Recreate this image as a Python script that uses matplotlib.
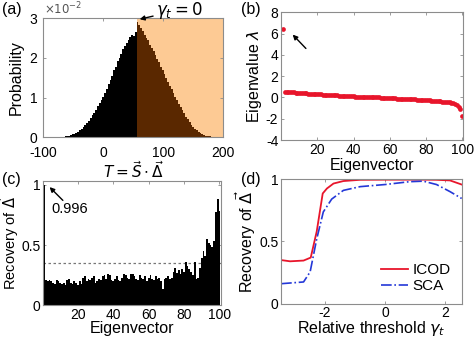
import matplotlib
matplotlib.use("Agg")
import numpy as np
import matplotlib.pyplot as plt

plt.rcParams['font.family'] = ['Liberation Sans', 'DejaVu Sans']
plt.rcParams['axes.unicode_minus'] = False
plt.rcParams['mathtext.fontset'] = 'dejavusans'

# (a) histogram of T, probability in units of 1e-2, bins of width 3 from -100 to 200
hist_edges = np.arange(-100, 201, 3)
threshold = 56
hist_below = [0.0, 0.0, 0.0, 0.002, 0.003, 0.005, 0.007, 0.01, 0.012, 0.015,
              0.02, 0.02, 0.025, 0.035, 0.045, 0.06, 0.075, 0.09, 0.12, 0.14,
              0.18, 0.22, 0.25, 0.30, 0.35, 0.42, 0.48, 0.55, 0.62, 0.68,
              0.78, 0.86, 0.93, 1.02, 1.12, 1.22, 1.33, 1.44, 1.55, 1.70,
              1.78, 1.92, 2.00, 2.10, 2.22, 2.30, 2.38, 2.45, 2.52, 2.58,
              2.55, 2.65]
hist_above = [2.90, 2.82, 2.75, 2.68, 2.58, 2.50, 2.45, 2.33, 2.25, 2.18,
              2.08, 1.98, 1.90, 1.78, 1.70, 1.60, 1.50, 1.40, 1.30, 1.22,
              1.12, 1.02, 0.93, 0.85, 0.77, 0.68, 0.60, 0.52, 0.45, 0.38,
              0.32, 0.27, 0.22, 0.18, 0.14, 0.11, 0.08, 0.06, 0.045, 0.03,
              0.022, 0.015, 0.01, 0.007, 0.005, 0.003, 0.002, 0.001]

# (b) eigenvalue spectrum
eigenvalues = [6.38, 0.55, 0.53, 0.52, 0.50, 0.49, 0.47, 0.46, 0.45, 0.43,
               0.42, 0.41, 0.39, 0.38, 0.37, 0.35, 0.34, 0.33, 0.32, 0.30,
               0.29, 0.28, 0.27, 0.26, 0.25, 0.24, 0.23, 0.22, 0.21, 0.20,
               0.19, 0.18, 0.17, 0.16, 0.15, 0.14, 0.13, 0.12, 0.11, 0.10,
               0.09, 0.08, 0.08, 0.07, 0.06, 0.05, 0.05, 0.04, 0.03, 0.02,
               0.02, 0.01, 0.00, 0.00, -0.01, -0.02, -0.03, -0.04, -0.05, -0.06,
               -0.07, -0.08, -0.09, -0.10, -0.10, -0.11, -0.12, -0.13, -0.14, -0.15,
               -0.16, -0.17, -0.18, -0.19, -0.20, -0.21, -0.22, -0.23, -0.24, -0.25,
               -0.26, -0.28, -0.29, -0.31, -0.32, -0.34, -0.35, -0.37, -0.38, -0.40,
               -0.42, -0.44, -0.46, -0.48, -0.51, -0.57, -0.68, -0.92, -1.12, -1.70]

# (c) recovery of Delta per eigenvector
recovery = [0.996, 0.21, 0.20, 0.21, 0.20, 0.19, 0.18, 0.21, 0.20, 0.19,
            0.18, 0.19, 0.17, 0.21, 0.22, 0.19, 0.18, 0.20, 0.19, 0.17,
            0.20, 0.18, 0.23, 0.24, 0.20, 0.22, 0.21, 0.23, 0.24, 0.19,
            0.20, 0.22, 0.21, 0.24, 0.25, 0.22, 0.26, 0.25, 0.21, 0.20,
            0.22, 0.24, 0.21, 0.20, 0.23, 0.26, 0.25, 0.23, 0.22, 0.26,
            0.26, 0.24, 0.22, 0.21, 0.25, 0.23, 0.22, 0.24, 0.20, 0.23,
            0.25, 0.22, 0.21, 0.24, 0.22, 0.23, 0.20, 0.14, 0.22, 0.23,
            0.24, 0.22, 0.23, 0.28, 0.31, 0.27, 0.29, 0.26, 0.30, 0.28,
            0.36, 0.33, 0.30, 0.28, 0.25, 0.36, 0.22, 0.23, 0.31, 0.39,
            0.45, 0.41, 0.55, 0.52, 0.50, 0.48, 0.53, 0.77, 0.88, 0.78]
recovery_ref = 0.353

# (d) recovery vs relative threshold
gamma = [-3.47, -3.17, -2.72, -2.48, -2.28, -2.08, -1.94, -1.72, -1.39, -0.83,
         0.0, 0.83, 1.28, 1.72, 2.17, 2.56]
icod = [0.350, 0.340, 0.346, 0.370, 0.580, 0.885, 0.925, 0.965, 0.985, 0.995,
        0.996, 0.996, 0.996, 0.995, 0.990, 0.957]
sca_gamma = [-3.47, -2.72, -2.50, -2.28, -2.06, -1.78, -1.39, -0.83, 0.0, 0.83,
             1.28, 1.72, 2.17, 2.56]
sca = [0.160, 0.174, 0.255, 0.520, 0.737, 0.840, 0.910, 0.940, 0.957, 0.980,
       0.984, 0.957, 0.900, 0.845]

SPINE = '#8c8c8c'
RED = '#e8152b'
BLUE = '#2438d8'
PEACH = '#fdca94'
BROWN = '#5a2800'
LABEL_FS = 11.5
TICK_FS = 10


def style(ax):
    for s in ax.spines.values():
        s.set_color(SPINE)
        s.set_linewidth(0.8)
    ax.tick_params(direction='in', length=2.5, width=0.6, color=SPINE,
                   labelsize=TICK_FS, top=True, right=True, pad=2)


fig = plt.figure(figsize=(4.74, 3.4), dpi=100)
ax_a = fig.add_axes([0.0907, 0.596, 0.380, 0.351])
ax_b = fig.add_axes([0.593, 0.588, 0.384, 0.376])
ax_c = fig.add_axes([0.0897, 0.1015, 0.377, 0.366])
ax_d = fig.add_axes([0.593, 0.107, 0.381, 0.366])

# (a)
ax_a.axvspan(threshold, 200, color=PEACH, lw=0, zorder=0)
n_below = len(hist_below)
ax_a.stairs(hist_below, hist_edges[:n_below + 1], fill=True, color='black', zorder=2)
ax_a.stairs(hist_above, hist_edges[n_below:], fill=True, color=BROWN, zorder=2)
ax_a.set_xlim(-100, 200)
ax_a.set_ylim(0, 3)
ax_a.set_xticks([-100, 0, 100, 200])
ax_a.set_yticks([0, 1, 2, 3])
ax_a.set_ylabel('Probability', fontsize=LABEL_FS, labelpad=4)
ax_a.set_xlabel(r'$T = \vec{S}\cdot\vec{\Delta}$', fontsize=11, labelpad=0.5)
ax_a.text(-98, 3.02, r'$\times10^{-2}$', fontsize=8.5, color='#555555', va='bottom')
ax_a.annotate(r'$\gamma_t = 0$', xy=(61, 2.97), xytext=(88, 3.2),
              fontsize=12, va='center', annotation_clip=False,
              arrowprops=dict(arrowstyle='-|>', color='black', lw=1.0,
                              mutation_scale=7, shrinkA=0, shrinkB=0))
style(ax_a)
ax_a.tick_params(axis='y', pad=4)
ax_a.tick_params(axis='x', pad=6)

# (b)
idx = np.arange(1, len(eigenvalues) + 1)
ax_b.plot(idx, eigenvalues, 'o', color=RED, ms=3.4, mec='none')
ax_b.set_xlim(0, 100.5)
ax_b.set_ylim(-4, 8)
ax_b.set_xticks([20, 40, 60, 80, 100])
ax_b.set_yticks([-4, -2, 0, 2, 4, 6, 8])
ax_b.set_ylabel(r'Eigenvalue $\lambda$', fontsize=LABEL_FS, labelpad=1)
ax_b.set_xlabel('Eigenvector', fontsize=LABEL_FS, labelpad=1)
ax_b.annotate('', xy=(6.4, 5.9), xytext=(13.7, 4.6),
              arrowprops=dict(arrowstyle='-|>', color='black', lw=1.0,
                              mutation_scale=7, shrinkA=0, shrinkB=0))
style(ax_b)

# (c)
ax_c.axhline(recovery_ref, color='#777777', ls=(0, (2, 2)), lw=0.9, zorder=1)
ax_c.bar(np.arange(1, len(recovery) + 1), recovery, width=1.0,
         color='black', zorder=2)
ax_c.set_xlim(0, 101)
ax_c.set_ylim(0, 1.03)
ax_c.set_xticks([20, 40, 60, 80, 100])
ax_c.set_yticks([0, 0.5, 1])
ax_c.set_yticklabels(['0', '0.5', '1'])
ax_c.set_ylabel(r'Recovery of $\vec{\Delta}$', fontsize=10.5)
ax_c.yaxis.set_label_coords(-0.12, 0.5)
ax_c.set_xlabel('Eigenvector', fontsize=LABEL_FS, labelpad=-1)
ax_c.text(5, 0.80, '0.996', fontsize=10.5, va='center', ha='left')
ax_c.annotate('', xy=(4, 0.98), xytext=(11.5, 0.87),
              arrowprops=dict(arrowstyle='-|>', color='black', lw=1.0,
                              mutation_scale=7, shrinkA=0, shrinkB=0))
style(ax_c)
ax_c.tick_params(axis='y', pad=1.5)

# (d)
ax_d.plot(gamma, icod, color=RED, lw=1.3, label='ICOD')
ax_d.plot(sca_gamma, sca, color=BLUE, lw=1.2, ls='-.', label='SCA')
ax_d.set_xlim(-3.47, 2.56)
ax_d.set_ylim(0, 1)
ax_d.set_xticks([-2, 0, 2])
ax_d.set_yticks([0, 0.5, 1])
ax_d.set_yticklabels(['0', '0.5', '1'])
ax_d.set_ylabel(r'Recovery of $\vec{\Delta}$', fontsize=LABEL_FS, labelpad=1)
ax_d.set_xlabel(r'Relative threshold $\gamma_t$', fontsize=LABEL_FS, labelpad=-1)
ax_d.legend(loc='lower right', frameon=False, fontsize=11, handlelength=1.8,
            handletextpad=0.3, labelspacing=0.1, borderaxespad=0.3)
style(ax_d)

for label, (x, y) in zip(['(a)', '(b)', '(c)', '(d)'],
                         [(0.005, 0.995), (0.508, 0.995), (0.005, 0.495), (0.508, 0.495)]):
    fig.text(x, y, label, fontsize=11.5, va='top', ha='left')

fig.savefig('out.png', dpi=100)
